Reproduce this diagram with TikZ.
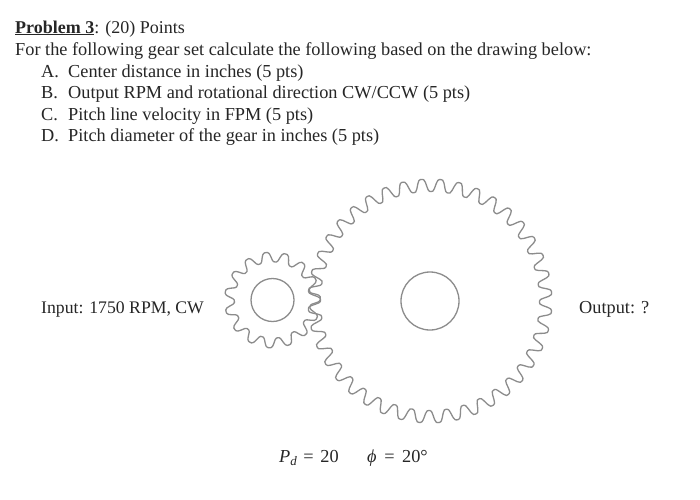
\documentclass[tikz,border=0pt]{standalone}
\usepackage{fontspec}
\setmainfont{Liberation Serif}
\tikzset{
  gearline/.style={draw=black!45, line width=1.3pt},
  bodytext/.style={anchor=base west, inner sep=0pt, font=\fontsize{18.3}{20}\selectfont, text=black!85},
}
\begin{document}
\begin{tikzpicture}[x=1pt, y=1pt]
\useasboundingbox (0,0) rectangle (700,-499);
\fill[white] (0,0) rectangle (700,-499);

\node[bodytext] (title) at (15,-33) {\fontsize{18}{20}\selectfont\textbf{\underline{Problem 3}}: (20) Points};
\node[bodytext] (intro) at (15,-55) {For the following gear set calculate the following based on the drawing below:};
\node[bodytext] (itema) at (41,-77) {A.};
\node[bodytext] (itemb) at (41,-98) {B.};
\node[bodytext] (itemc) at (41,-120) {C.};
\node[bodytext] (itemd) at (41,-141) {D.};
\node[bodytext] (texta) at (68,-77) {Center distance in inches (5 pts)};
\node[bodytext] (textb) at (68,-98) {Output RPM and rotational direction CW/CCW (5 pts)};
\node[bodytext] (textc) at (68,-120) {Pitch line velocity in FPM (5 pts)};
\node[bodytext] (textd) at (68,-141) {Pitch diameter of the gear in inches (5 pts)};

\begin{scope}[shift={(272.5,-300)}]
\draw[gearline] plot[samples=180, domain=0:358, smooth cycle] (\x:{43+5.5*(cos(15*(\x-2))-0.12*cos(3*mod(15*(\x-2),360)))});
\draw[gearline] (0,0) circle (21.5);
\end{scope}

\begin{scope}[shift={(430,-301)}]
\draw[gearline] plot[samples=480, domain=0:359.25, smooth cycle] (\x:{115.7+7*(cos(40*(\x-4))-0.12*cos(3*mod(40*(\x-4),360)))});
\draw[gearline] (0,0) circle (29);
\end{scope}

\node[bodytext] (input) at (41,-313) {\fontsize{17.7}{20}\selectfont Input: 1750 RPM, CW};
\node[bodytext] (output) at (579,-313) {Output: ?};
\node[bodytext] (pitch) at (279,-462) {\textit{P}\raisebox{-3pt}{\fontsize{13}{13}\selectfont\textit{d}}\hspace{2pt} =\hspace{2pt} 20};
\node[bodytext] (angle) at (367,-462) {\textit{ϕ}\hspace{3pt} =\hspace{3pt} 20°};
\end{tikzpicture}
\end{document}
